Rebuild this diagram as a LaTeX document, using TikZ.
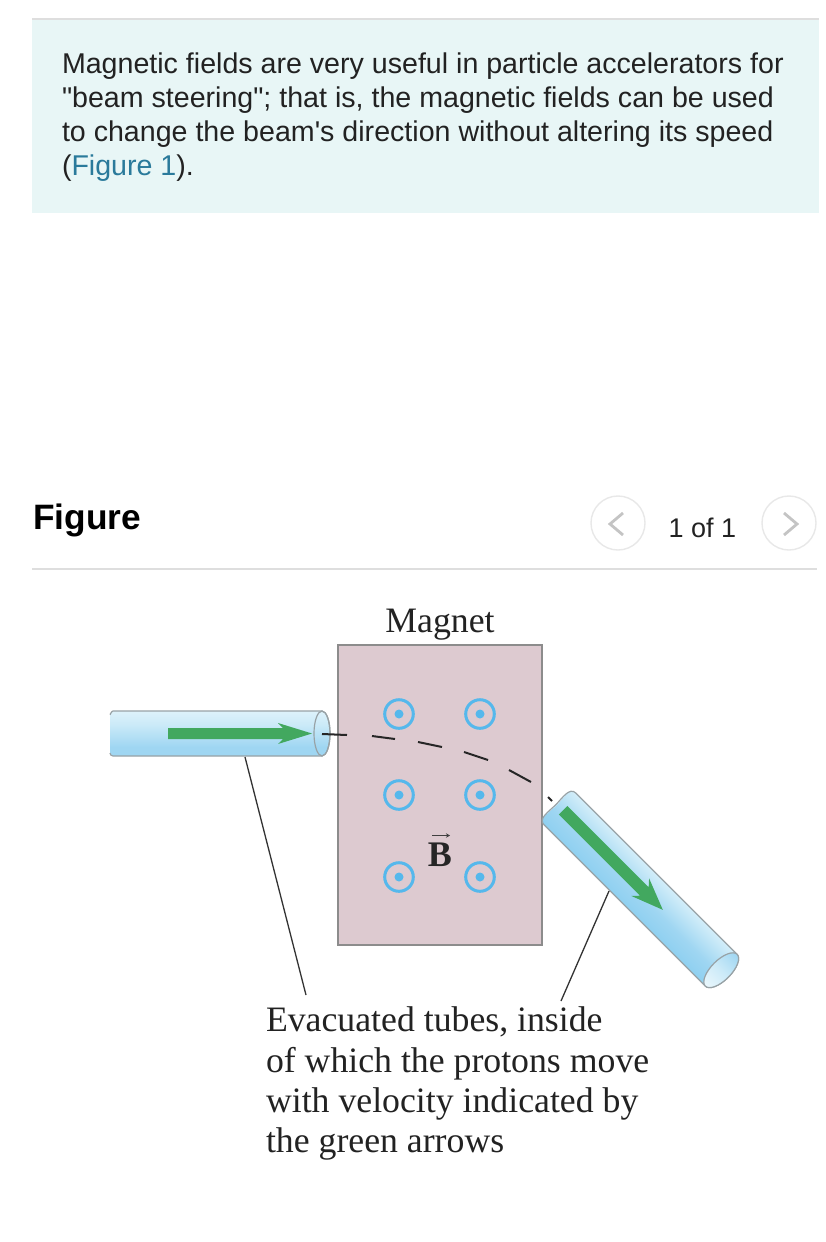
\documentclass[tikz,border=0pt]{standalone}
\usepackage{fontspec}
\usetikzlibrary{arrows.meta}
\setmainfont[Ligatures=TeXOff]{Liberation Sans}
\newfontfamily\figserif{Liberation Serif}
\definecolor{panel}{HTML}{E8F6F6}
\definecolor{rulegray}{HTML}{DEDEDE}
\definecolor{linkblue}{HTML}{2A7A9B}
\definecolor{magnetfill}{HTML}{DDCAD0}
\definecolor{magnetedge}{HTML}{8C8C8C}
\definecolor{fieldblue}{HTML}{55B8EC}
\definecolor{arrowgreen}{HTML}{42A85F}
\definecolor{tubeedge}{HTML}{98A2A6}
\definecolor{btngray}{HTML}{C4C4C4}
\definecolor{btnring}{HTML}{E8E8E8}
\definecolor{inktext}{HTML}{222222}
\definecolor{tubeB}{HTML}{9FD6F2}
\definecolor{tubeM}{HTML}{CBEAF8}
\definecolor{tubeL}{HTML}{EAF7FC}
\definecolor{tubeT}{HTML}{D5EDF8}
\definecolor{tubeC}{HTML}{8FD0F0}
\pgfdeclareverticalshading{tubeone}{100bp}{color(0bp)=(tubeB); color(25bp)=(tubeB); color(35bp)=(tubeB); color(60bp)=(tubeM); color(85bp)=(tubeL); color(100bp)=(tubeT)}
\pgfdeclareverticalshading{tubetwo}{100bp}{color(0bp)=(tubeC); color(25bp)=(tubeC); color(45bp)=(tubeB); color(70bp)=(tubeM); color(88bp)=(tubeL); color(100bp)=(tubeM)}
\pgfdeclareverticalshading{tubemouth}{100bp}{color(0bp)=(tubeL); color(25bp)=(tubeL); color(50bp)=(tubeM); color(75bp)=(tubeB); color(100bp)=(tubeB)}
\tikzset{
  sans/.style={inner sep=0pt,outer sep=0pt,align=left,anchor=north west,font=\fontsize{28.6}{34}\selectfont,text=inktext},
  figtext/.style={inner sep=0pt,outer sep=0pt,align=left,anchor=north west,font=\figserif\fontsize{35.75}{40.3}\selectfont,text=inktext},
  sep/.style={draw=rulegray,line width=1.3pt},
  btn/.style={circle,draw=btnring,line width=1.4pt,minimum size=54pt,inner sep=0pt,fill=white},
  chev/.style={draw=btngray,line width=2.8pt},
  leader/.style={draw=black!80,line width=1.3pt},
  beam/.style={draw=black!85,line width=2pt},
  fieldring/.style={draw=fieldblue,line width=3pt},
  tubeline/.style={draw=tubeedge,line width=1.2pt},
}
\begin{document}
\begin{tikzpicture}[x=1pt,y=-1pt]
\useasboundingbox[fill=white] (0,0) rectangle (826,1242);
% panel
\fill[panel] (32,19) rectangle (819,213);
\draw[sep] (32,19) -- (819,19);
\node[sans] (intro) at (62,53) {Magnetic fields are very useful in particle accelerators for\\
"beam steering"; that is, the magnetic fields can be used\\
to change the beam's direction without altering its speed\\
({\color{linkblue}Figure 1}).};
% header
\node[inner sep=0pt,anchor=base west,font=\bfseries\fontsize{35.3}{40}\selectfont,text=black] (figtitle) at (33,529) {Figure};
\node[btn] (prev) at (618,523) {};
\node[btn] (next) at (789,523) {};
\draw[chev] (623,513) -- (610,524) -- (623,535);
\draw[chev] (784,513) -- (797,524) -- (784,535);
\node[inner sep=0pt,anchor=base,font=\fontsize{27}{32}\selectfont,text=inktext] (pager) at (702.5,537) {1 of 1};
\draw[sep] (32,569) -- (817,569);
% magnet
\node[figtext,anchor=base] (magnetlabel) at (440,632) {Magnet};
\draw[fill=magnetfill,draw=magnetedge,line width=1.4pt] (338,645) rectangle (542,945);
\foreach \px/\py in {399/714,480/714,399/795,480/795,399/877,480/877}{
  \draw[fieldring] (\px,\py) circle (14.3);
  \fill[fieldblue] (\px,\py) circle (4.5);
}
\node[inner sep=0pt,anchor=base,font=\figserif\bfseries\fontsize{36}{40}\selectfont,text=black!85] (bfield) at (440,866) {B};
\draw[black!75,line width=1.5pt,-{Stealth[length=4pt,width=4.5pt]}] (432,835.5) -- (450,835.5);
% tube 1
\shade[shading=tubeone] (113,711) -- (322,711) arc[start angle=-90,end angle=90,x radius=8,y radius=22.5] -- (113,756) to[out=180,in=90] (110,753) -- (110,714) to[out=-90,in=180] (113,711) -- cycle;
\draw[tubeline] (110,753) to[out=-90,in=180] (113,756) -- (322,756) arc[start angle=90,end angle=-90,x radius=8,y radius=22.5] -- (113,711) to[out=180,in=-90] (110,714);
\draw[tubeline] (322,733.5) ellipse[x radius=8,y radius=22.5];
\fill[arrowgreen] (168,728) -- (283,728) -- (278,723) -- (312,733.5) -- (278,744) -- (283,739) -- (168,739) -- cycle;
% tube 2
\begin{scope}[transform canvas={shift={(560pt,-809pt)},rotate=-45}]
\shade[shading=tubetwo] (0,-22.5) -- (228,-22.5) -- (232,0) -- (228,22.5) -- (0,22.5) to[out=180,in=-90] (-5,0) to[out=90,in=180] (0,-22.5) -- cycle;
\draw[tubeline] (0,22.5) -- (228,22.5) arc[start angle=90,end angle=-90,x radius=10,y radius=22.5] -- (0,-22.5) to[out=180,in=90] (-6,0) to[out=-90,in=180] (0,22.5);
\shade[shading=tubemouth] (228,0) ellipse[x radius=10,y radius=22.5];
\draw[tubeline] (228,0) ellipse[x radius=10,y radius=22.5];
\fill[arrowgreen] (3,-7.4) -- (118,-7.4) -- (112,-14) -- (144,-1.4) -- (112,11) -- (118,4.6) -- (3,4.6) -- cycle;
\end{scope}
% beam
\coordinate (b1a) at (322,734); \coordinate (b1b) at (347,735);
\coordinate (b2a) at (372,736); \coordinate (b2b) at (395,739);
\coordinate (b3a) at (418,742); \coordinate (b3b) at (442,747);
\coordinate (b4a) at (464,752); \coordinate (b4b) at (488,760);
\coordinate (b5a) at (509,770); \coordinate (b5b) at (531,782);
\coordinate (b6a) at (548,797); \coordinate (b6b) at (552,801);
\foreach \n in {1,...,6}{\draw[beam] (b\n a) -- (b\n b);}
% caption
\node[figtext] (caption) at (266,1007) {Evacuated tubes, inside\\of which the protons move\\with velocity indicated by\\the green arrows};
\coordinate (tubeA) at (245,757);
\coordinate (tubeBp) at (609,891);
\coordinate (capA) at (306,995);
\coordinate (capB) at (561,1001);
\draw[leader] (tubeA) -- (capA);
\draw[leader] (tubeBp) -- (capB);
\end{tikzpicture}
\end{document}
